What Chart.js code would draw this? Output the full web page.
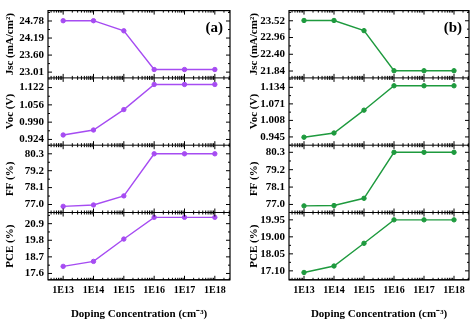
<!DOCTYPE html>
<html>
<head>
<meta charset="utf-8">
<script src="https://cdn.jsdelivr.net/npm/chart.js@4"></script>
<style>
  html, body { margin: 0; padding: 0; background: #fff; }
  #wrap { position: relative; width: 474px; height: 325px; }
  .panel { position: absolute; top: 0; }
</style>
</head>
<body>
<div id="wrap">
  <div class="panel" style="left:0"><canvas id="chartA" width="237" height="325"></canvas></div>
  <div class="panel" style="left:237px"><canvas id="chartB" width="237" height="325"></canvas></div>
</div>
<script>
// x categories (doping concentration, cm^-3)
const concentrations = ['1E13', '1E14', '1E15', '1E16', '1E17', '1E18'];

// panel (a)
const jscA = [24.79, 24.79, 24.44, 23.10, 23.10, 23.10];
const vocA = [0.941, 0.960, 1.038, 1.134, 1.134, 1.134];
const ffA = [76.88, 76.97, 77.56, 80.30, 80.30, 80.30];
const pceA = [18.07, 18.40, 19.88, 21.32, 21.32, 21.32];

// panel (b)
const jscB = [23.53, 23.53, 23.19, 21.85, 21.85, 21.85];
const vocB = [0.944, 0.960, 1.047, 1.140, 1.140, 1.140];
const ffB = [76.91, 76.93, 77.39, 80.30, 80.30, 80.30];
const pceB = [17.01, 17.37, 18.64, 19.95, 19.95, 19.95];

// y tick labels
const jscTicksA = [23.01, 23.60, 24.19, 24.78];
const vocTicksA = [0.924, 0.990, 1.056, 1.122];
const ffTicksA = [77.0, 78.1, 79.2, 80.3];
const pceTicksA = [17.6, 18.7, 19.8, 20.9];
const jscTicksB = [21.84, 22.40, 22.96, 23.52];
const vocTicksB = [0.945, 1.008, 1.071, 1.134];
const ffTicksB = [77.0, 78.1, 79.2, 80.3];
const pceTicksB = [17.10, 18.05, 19.00, 19.95];

const SERIF = "'Liberation Serif', 'Times New Roman', serif";
const ROWS = ['jsc', 'voc', 'ff', 'pce'];
const TITLES = ['Jsc (mA/cm²)', 'Voc (V)', 'FF (%)', 'PCE (%)'];

// frame, inward ticks and panel letter
const framePlugin = {
    id: 'frame',
    afterDraw(chart, args, opts) {
        const { ctx, chartArea: a, scales } = chart;
        const x = scales.x;
        ctx.save();
        ctx.strokeStyle = '#000';
        ctx.lineWidth = 1.2;
        ctx.strokeRect(a.left, a.top, a.right - a.left, a.bottom - a.top);
        ctx.lineWidth = 1;
        ROWS.forEach(id => {
            const s = scales[id];
            ctx.beginPath();
            ctx.moveTo(a.left, s.bottom);
            ctx.lineTo(a.right, s.bottom);
            // x ticks, top and bottom of every row
            [s.top, s.bottom].forEach((edge, j) => {
                const dir = j === 0 ? 1 : -1;
                for (let i = 0; i < concentrations.length; i++) {
                    const px = x.getPixelForValue(i);
                    ctx.moveTo(px, edge);
                    ctx.lineTo(px, edge + dir * 4);
                }
                for (let i = -1; i < concentrations.length; i++) {
                    for (let k = 2; k <= 9; k++) {
                        const v = i + Math.log10(k);
                        if (v < -0.5 || v > concentrations.length - 0.5) continue;
                        const px = x.getPixelForValue(v);
                        ctx.moveTo(px, edge);
                        ctx.lineTo(px, edge + dir * 2);
                    }
                }
            });
            // y ticks, left and right
            const vals = s.ticks.map(t => t.value);
            const step = vals[1] - vals[0];
            vals.forEach(v => {
                const py = s.getPixelForValue(v);
                ctx.moveTo(a.left, py); ctx.lineTo(a.left + 4, py);
                ctx.moveTo(a.right, py); ctx.lineTo(a.right - 4, py);
            });
            for (let v = vals[0] - step / 2; v <= s.max; v += step) {
                if (v < s.min) continue;
                const py = s.getPixelForValue(v);
                ctx.moveTo(a.left, py); ctx.lineTo(a.left + 2, py);
                ctx.moveTo(a.right, py); ctx.lineTo(a.right - 2, py);
            }
            ctx.stroke();
        });
        ctx.fillStyle = '#000';
        ctx.font = 'bold 15px ' + SERIF;
        ctx.textAlign = 'right';
        ctx.textBaseline = 'middle';
        ctx.fillText(opts.letter, a.right - 7, scales.jsc.top + 18);
        ctx.restore();
    }
};

function yAxis(title, ticks, decimals, min, max, weight, axisWidth) {
    return {
        type: 'linear',
        position: 'left',
        stack: 'rows',
        stackWeight: 1,
        weight: weight,
        min: min,
        max: max,
        afterBuildTicks: scale => { scale.ticks = ticks.map(v => ({ value: v })); },
        afterFit: scale => { scale.width = axisWidth; },
        grid: { display: false, drawTicks: false },
        border: { display: false },
        ticks: {
            autoSkip: false,
            padding: 4,
            color: '#000',
            font: { family: SERIF, size: 11, weight: 'bold' },
            callback: v => Number(v).toFixed(decimals)
        },
        title: {
            display: true,
            text: title,
            color: '#000',
            padding: { top: 4, bottom: 2 },
            font: { family: SERIF, size: 11, weight: 'bold' }
        }
    };
}

function makePanel(canvasId, letter, color, series, tickSets, decimals, limits, padLeft, axisWidth, padRight) {
    const scales = {
        x: {
            type: 'category',
            offset: true,
            grid: { display: false, drawTicks: false },
            border: { display: false },
            ticks: {
                autoSkip: false,
                maxRotation: 0,
                padding: 5,
                color: '#000',
                font: { family: SERIF, size: 10, weight: 'bold' }
            },
            title: {
                display: true,
                text: 'Doping Concentration (cm⁻³)',
                color: '#000',
                padding: { top: 6, bottom: 4 },
                font: { family: SERIF, size: 11, weight: 'bold' }
            }
        }
    };
    ROWS.forEach((id, i) => {
        // higher weight is placed first (top) in the stack
        scales[id] = yAxis(TITLES[i], tickSets[i], decimals[i], limits[i][0], limits[i][1], ROWS.length - i, axisWidth);
    });
    new Chart(document.getElementById(canvasId), {
        type: 'line',
        data: {
            labels: concentrations,
            datasets: ROWS.map((id, i) => ({
                label: TITLES[i],
                data: series[i],
                yAxisID: id,
                borderColor: color,
                backgroundColor: color,
                borderWidth: 1.4,
                pointRadius: 2.2,
                pointBorderWidth: 1,
                tension: 0
            }))
        },
        options: {
            responsive: false,
            animation: false,
            layout: { padding: { top: 5, left: padLeft, right: padRight, bottom: 0 } },
            plugins: {
                legend: { display: false },
                tooltip: { enabled: false },
                frame: { letter: letter }
            },
            scales: scales
        },
        plugins: [framePlugin]
    });
}

makePanel('chartA', '(a)', '#a64cf2',
    [jscA, vocA, ffA, pceA],
    [jscTicksA, vocTicksA, ffTicksA, pceTicksA],
    [2, 3, 1, 1],
    [[22.81, 25.14], [0.902, 1.159], [76.48, 80.86], [17.18, 21.64]],
    0, 48, 7);

makePanel('chartB', '(b)', '#1e9a3e',
    [jscB, vocB, ffB, pceB],
    [jscTicksB, vocTicksB, ffTicksB, pceTicksB],
    [2, 3, 1, 2],
    [[21.61, 23.86], [0.9135, 1.170], [76.49, 80.75], [16.60, 20.36]],
    7, 45, 3);
</script>
</body>
</html>
